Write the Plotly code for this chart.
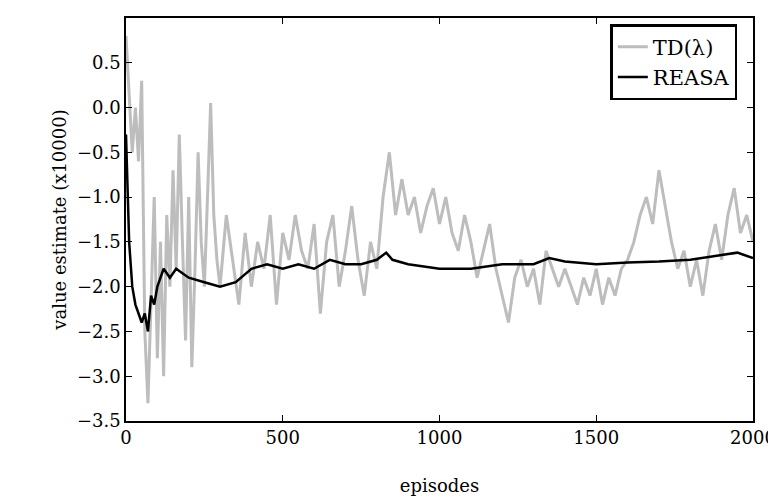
import plotly.graph_objects as go

td_x = [0,10,20,30,40,50,55,60,70,80,90,100,110,120,130,140,150,160,170,180,190,200,210,220,230,240,250,260,270,280,290,300,
        320,340,360,380,400,420,440,460,480,500,520,540,560,580,600,620,640,660,680,700,720,740,760,780,800,820,840,860,880,900,
        920,940,960,980,1000,1020,1040,1060,1080,1100,1120,1140,1160,1180,1200,1220,1240,1260,1280,1300,1320,1340,1360,1380,1400,
        1420,1440,1460,1480,1500,1520,1540,1560,1580,1600,1620,1640,1660,1680,1700,1720,1740,1760,1780,1800,1820,1840,1860,1880,
        1900,1920,1940,1960,1980,2000]
td_y = [0.8,0.2,-0.5,0.0,-0.6,0.3,-1.5,-2.5,-3.3,-2.2,-1.0,-2.8,-1.5,-3.0,-1.2,-2.0,-0.7,-1.8,-0.3,-1.5,-2.6,-1.0,-2.9,-1.8,-0.5,-1.5,-2.0,-1.0,0.05,-1.2,-1.7,-2.0,
        -1.2,-1.7,-2.2,-1.4,-2.0,-1.5,-1.8,-1.2,-2.2,-1.4,-1.7,-1.2,-1.6,-1.8,-1.3,-2.3,-1.5,-1.2,-2.0,-1.6,-1.1,-1.7,-2.1,-1.5,-1.8,-1.0,-0.5,-1.2,-0.8,-1.2,
        -1.0,-1.4,-1.1,-0.9,-1.3,-1.0,-1.4,-1.6,-1.2,-1.5,-1.9,-1.6,-1.3,-1.8,-2.1,-2.4,-1.9,-1.7,-2.0,-1.8,-2.2,-1.6,-1.8,-2.0,-1.8,
        -2.0,-2.2,-1.9,-2.1,-1.8,-2.2,-1.9,-2.1,-1.8,-1.7,-1.5,-1.2,-1.0,-1.3,-0.7,-1.1,-1.5,-1.8,-1.6,-2.0,-1.7,-2.1,-1.6,-1.3,
        -1.7,-1.2,-0.9,-1.4,-1.2,-1.5]

re_x = [0,5,10,20,30,40,50,60,70,80,90,100,120,140,160,180,200,250,300,350,400,450,500,550,600,650,700,750,800,830,850,900,
        1000,1100,1200,1300,1350,1400,1500,1600,1700,1800,1900,1950,2000]
re_y = [-0.3,-1.0,-1.5,-2.0,-2.2,-2.3,-2.4,-2.3,-2.5,-2.1,-2.2,-2.0,-1.8,-1.9,-1.8,-1.85,-1.9,-1.95,-2.0,-1.95,-1.8,-1.75,-1.8,-1.75,-1.8,-1.7,-1.75,-1.75,-1.7,-1.62,-1.7,-1.75,
        -1.8,-1.8,-1.75,-1.75,-1.68,-1.72,-1.75,-1.73,-1.72,-1.7,-1.65,-1.62,-1.68]

y_ticks = [1.0,0.5,0.0,-0.5,-1.0,-1.5,-2.0,-2.5,-3.0,-3.5]
y_labels = ["1.0","0.5","0.0","−0.5","−1.0","−1.5","−2.0","−2.5","−3.0","−3.5"]

font = dict(family="DejaVu Serif", size=18, color="black")
fig = go.Figure()
fig.add_trace(go.Scatter(x=td_x, y=td_y, mode="lines", name="TD(λ)", line=dict(color="#bdbdbd", width=3)))
fig.add_trace(go.Scatter(x=re_x, y=re_y, mode="lines", name="REASA", line=dict(color="black", width=2.5)))
ax = dict(showgrid=False, zeroline=False, showline=True, linecolor="black", linewidth=1.5, mirror="ticks",
          ticks="inside", ticklen=6, tickcolor="black", tickfont=font)
fig.update_layout(
    width=776, height=503, margin=dict(l=118, r=26, t=8, b=90),
    plot_bgcolor="white", paper_bgcolor="white", font=font,
    xaxis=dict(ax, range=[0, 2000], tickvals=[0,500,1000,1500,2000],
               title=dict(text="episodes", font=font, standoff=32)),
    yaxis=dict(ax, range=[-3.5, 1.0], tickvals=y_ticks, ticktext=y_labels,
               title=dict(text="value estimate (x10000)", font=font, standoff=6)),
    legend=dict(x=0.975, y=0.985, xanchor="right", yanchor="top", bordercolor="black", borderwidth=2.5,
                bgcolor="white", font=dict(family="DejaVu Serif", size=21), tracegroupgap=4),
)
fig.write_html("out.html")
